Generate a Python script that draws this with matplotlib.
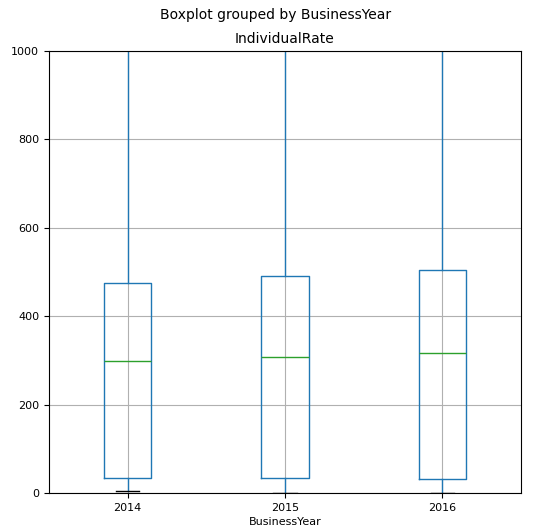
import matplotlib
matplotlib.use("Agg")
import matplotlib.pyplot as plt

years = ["2014", "2015", "2016"]
q1 = [33, 33, 31]
med = [298, 307, 316]
q3 = [474, 490, 504]
whislo = [5, 0, 1]
whishi = [1300, 1350, 1400]

stats = [dict(label=y, q1=a, med=m, q3=b, whislo=lo, whishi=hi, fliers=[])
         for y, a, m, b, lo, hi in zip(years, q1, med, q3, whislo, whishi)]

fig = plt.figure(figsize=(5.52, 5.27), dpi=100)
ax = fig.add_axes([49/552, 34/527, 472/552, 442/527])
ax.bxp(stats, widths=0.3,
       boxprops=dict(color="C0"), whiskerprops=dict(color="C0"),
       capprops=dict(color="black"), medianprops=dict(color="C2"))
ax.set_ylim(0, 1000)
ax.grid(True)
ax.set_axisbelow(True)
ax.set_title("IndividualRate", fontsize=10)
ax.set_xlabel("BusinessYear", fontsize=8, labelpad=3)
ax.tick_params(labelsize=8)
fig.suptitle("Boxplot grouped by BusinessYear", fontsize=10, y=0.985)
fig.savefig("out.png", dpi=100)
